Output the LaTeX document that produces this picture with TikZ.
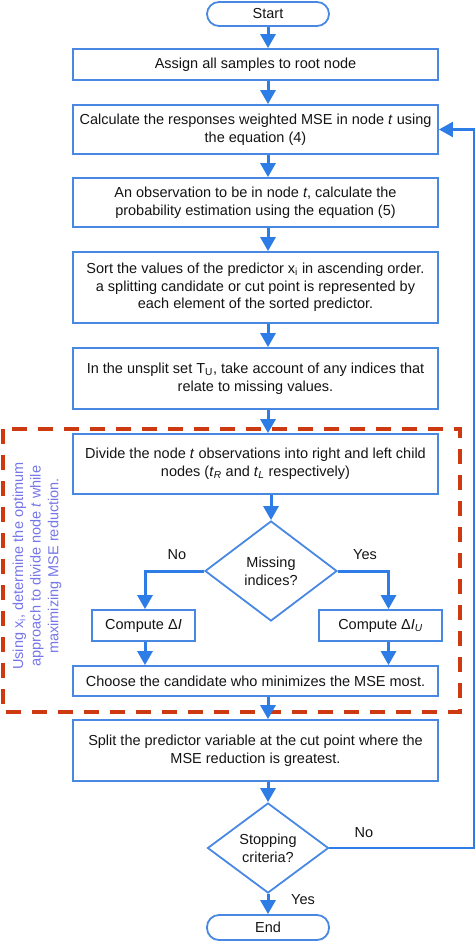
\documentclass[tikz,border=0pt]{standalone}
\usepackage{fontspec}
\setmainfont{Liberation Sans}
\usepackage{xcolor}
\usepackage{tikz}
\usetikzlibrary{arrows.meta, shapes, backgrounds, positioning}
\definecolor{flowblue}{RGB}{46, 125, 230}
\definecolor{boxblue}{RGB}{72, 136, 226}
\definecolor{framered}{RGB}{205, 58, 18}
\definecolor{notecol}{RGB}{118, 118, 232}
\tikzset{
    termnode/.style = {draw=boxblue, line width=1.8pt, rectangle, rounded corners=12pt,
      minimum width=122pt, minimum height=24pt, inner sep=0em, node distance=0em},
    rectanglenode/.style = {draw=boxblue, line width=1.8pt, rectangle, inner sep=0em,
      node distance=0em, minimum width=365pt},
    decisionnode/.style = {draw=boxblue, line width=1.8pt, diamond, inner sep=0em,
      node distance=0em},
    textnode/.style = {draw=none, fill=none, rectangle, inner sep=0em, node distance=0em},
    notenode/.style = {textnode, text=notecol, rotate=90},
    connect/.style = {flowblue, line width=3pt, -{Triangle[length=14pt, width=15pt]}},
    loopline/.style = {flowblue, line width=2.2pt, -{Triangle[length=14pt, width=15pt]}},
    groupframe/.style = {framered, line width=3.6pt, dash pattern=on 15pt off 11pt},
    every text node part/.style={align=center},
    every node/.style={font=\fontsize{14.5pt}{17.7pt}\selectfont, text=black!92}
}

\begin{document}
\begin{tikzpicture}
\useasboundingbox (0,0) rectangle (474pt,-941pt);

\node[termnode, name=start] at (268pt,-14pt) {Start};
\node[rectanglenode, name=assign, below of = start, xshift=-12.5pt, yshift=-50.5pt,
	minimum height=31pt] {Assign all samples to root node};
\node[rectanglenode, name=calc, below of = assign, yshift=-65pt, minimum height=49pt]
	{Calculate the responses weighted MSE in node \textit{t} using\\the equation (4)};
\node[rectanglenode, name=prob, below of = calc, yshift=-73pt, minimum height=49pt]
	{An observation to be in node \textit{t}, calculate the\\probability estimation using the equation (5)};
\node[rectanglenode, name=sort, below of = prob, yshift=-85pt, minimum height=71pt]
	{Sort the values of the predictor x\textsubscript{i} in ascending order.\\a splitting candidate or cut point is represented by\\each element of the sorted predictor.};
\node[rectanglenode, name=unsplit, below of = sort, yshift=-91pt, minimum height=61pt]
	{In the unsplit set T\textsubscript{U}, take account of any indices that\\relate to missing values.};
\node[rectanglenode, name=divide, below of = unsplit, yshift=-85.5pt, minimum height=60pt]
	{Divide the node \textit{t} observations into right and left child\\nodes (\textit{t}\textsubscript{\textit{R}} and \textit{t}\textsubscript{\textit{L}} respectively)};

\node[decisionnode, name=missing, at={(271pt,-571pt)}, minimum width=132pt, minimum height=100pt]
	{Missing\\indices?};
\node[rectanglenode, name=dI, at={(143.5pt,-625.5pt)}, minimum width=103pt, minimum height=31pt]
	{Compute Δ\textit{I}};
\node[rectanglenode, name=dIU, at={(380.5pt,-625.5pt)}, minimum width=123pt, minimum height=31pt]
	{Compute Δ\textit{I}\textsubscript{\textit{U}}};
\node[rectanglenode, name=choose, below of = divide, yshift=-217pt, minimum height=30pt]
	{Choose the candidate who minimizes the MSE most.};
\node[rectanglenode, name=split, below of = choose, yshift=-69.5pt, minimum height=61pt]
	{Split the predictor variable at the cut point where the\\MSE reduction is greatest.};
\node[decisionnode, name=stop, at={(268pt,-848pt)}, minimum width=121pt, minimum height=90pt]
	{Stopping\\criteria?};
\node[termnode, name=end, below of = stop, yshift=-79.5pt, minimum height=25pt] {End};

\node[textnode, name=no1] at (177pt,-555pt) {No};
\node[textnode, name=yes1] at (365pt,-555pt) {Yes};
\node[textnode, name=no2] at (364pt,-833pt) {No};
\node[textnode, name=yes2] at (303pt,-900pt) {Yes};
\node[notenode, name=note] at (37pt,-566pt)
	{Using x\textsubscript{i}, determine the optimum\\approach to divide node \textit{t} while\\maximizing MSE reduction.};

\begin{scope}[on background layer]
\draw[groupframe] (3pt,-429pt) rectangle (460pt,-712pt);
\end{scope}

\draw[connect] (start) -- (start |- assign.north);
\draw[connect] (assign.south -| start) -- (calc.north -| start);
\draw[connect] (calc.south -| start) -- (prob.north -| start);
\draw[connect] (prob.south -| start) -- (sort.north -| start);
\draw[connect] (sort.south -| start) -- (unsplit.north -| start);
\draw[connect] (unsplit.south -| start) -- (divide.north -| start);
\draw[connect] (divide.south -| missing) -- (missing.north);
\draw[connect] (missing.west) -| ([xshift=1.5pt]dI.north);
\draw[connect] (missing.east) -| ([xshift=8pt]dIU.north);
\draw[connect] ([xshift=1.5pt]dI.south) -- ([xshift=1.5pt]dI.south |- choose.north);
\draw[connect] ([xshift=8pt]dIU.south) -- ([xshift=8pt]dIU.south |- choose.north);
\draw[connect] (choose.south -| start) -- (split.north -| start);
\draw[connect] (split.south -| stop) -- (stop.north);
\draw[connect] (stop.south) -- (end.north);
\draw[loopline] (stop.east) -- ++(144.5pt,0) |- (calc.east);
\end{tikzpicture}
\end{document}
